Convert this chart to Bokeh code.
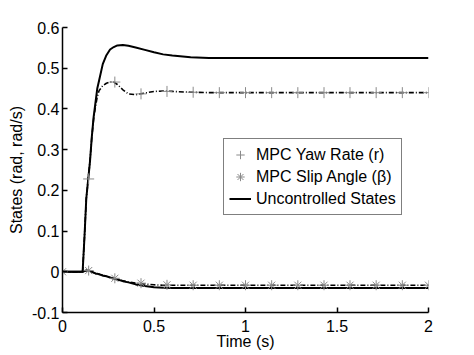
from bokeh.plotting import figure
from bokeh.models import Range1d, FixedTicker, Legend, LegendItem, ColumnDataSource
from bokeh.embed import file_html
from bokeh.resources import INLINE

# ---- data ----
t = [0, 0.05, 0.11, 0.12, 0.13, 0.14, 0.15, 0.16, 0.17, 0.18, 0.19, 0.20, 0.22, 0.24,
     0.26, 0.28, 0.30, 0.33, 0.36, 0.40, 0.45, 0.50, 0.55, 0.60, 0.70, 0.80, 0.90, 1.0, 1.5, 2.0]
unc_yaw = [0, 0, 0, 0.085, 0.18, 0.225, 0.27, 0.33, 0.38, 0.415, 0.45, 0.47, 0.51, 0.532,
           0.546, 0.552, 0.556, 0.557, 0.555, 0.551, 0.545, 0.539, 0.534, 0.531, 0.527,
           0.525, 0.525, 0.525, 0.525, 0.525]
mpc_yaw = [0, 0, 0, 0.085, 0.18, 0.225, 0.27, 0.33, 0.375, 0.405, 0.43, 0.445, 0.457, 0.463,
           0.466, 0.466, 0.46, 0.447, 0.437, 0.435, 0.439, 0.443, 0.444, 0.443, 0.441,
           0.44, 0.44, 0.44, 0.44, 0.44]
unc_slip = [0, 0, 0, 0.002, 0.003, 0.003, 0.002, 0.0, -0.002, -0.004, -0.005, -0.006, -0.009,
            -0.011, -0.014, -0.017, -0.019, -0.023, -0.026, -0.031, -0.035, -0.038, -0.039,
            -0.040, -0.040, -0.040, -0.040, -0.040, -0.040, -0.040]
mpc_slip = [0, 0, 0, 0.002, 0.003, 0.003, 0.002, 0.0, -0.002, -0.004, -0.005, -0.006, -0.009,
            -0.011, -0.014, -0.016, -0.019, -0.022, -0.025, -0.028, -0.030, -0.032, -0.033,
            -0.033, -0.033, -0.033, -0.033, -0.033, -0.033, -0.033]

t_mark = [0, 0.143, 0.286, 0.429, 0.571, 0.714, 0.857, 1.0, 1.143, 1.286, 1.429, 1.571,
          1.714, 1.857, 2.0]
yaw_mark = [0, 0.228, 0.466, 0.437, 0.443, 0.441, 0.44, 0.44, 0.44, 0.44, 0.44, 0.44,
            0.44, 0.44, 0.44]
slip_mark = [0, 0.003, -0.016, -0.028, -0.032, -0.033, -0.033, -0.033, -0.033, -0.033,
             -0.033, -0.033, -0.033, -0.033, -0.033]

x_ticks = [0, 0.5, 1, 1.5, 2]
x_tick_labels = ["0", "0.5", "1", "1.5", "2"]
y_ticks = [-0.1, 0, 0.1, 0.2, 0.3, 0.4, 0.5, 0.6]
y_tick_labels = ["-0.1", "0", "0.1", "0.2", "0.3", "0.4", "0.5", "0.6"]

legend_labels = ["MPC Yaw Rate (r)", "MPC Slip Angle (\u03b2)", "Uncontrolled States"]

FONT = "Liberation Sans"

p = figure(width=474, height=355, output_backend="svg", toolbar_location=None,
           x_range=Range1d(0, 2), y_range=Range1d(-0.1, 0.6),
           min_border_left=62, min_border_right=46, min_border_top=27, min_border_bottom=43)
p.outline_line_color = None
p.xgrid.visible = False
p.ygrid.visible = False
p.background_fill_color = "white"
p.border_fill_color = "white"

lines = ColumnDataSource(dict(t=t, unc_yaw=unc_yaw, mpc_yaw=mpc_yaw,
                              unc_slip=unc_slip, mpc_slip=mpc_slip))
marks = ColumnDataSource(dict(t=t_mark, yaw=yaw_mark, slip=slip_mark))

r_unc1 = p.line("t", "unc_yaw", source=lines, line_color="black", line_width=2)
r_unc2 = p.line("t", "unc_slip", source=lines, line_color="black", line_width=2)
p.line("t", "mpc_yaw", source=lines, line_color="black", line_width=1.6, line_dash="5 2 1 2")
p.line("t", "mpc_slip", source=lines, line_color="black", line_width=1.6, line_dash="5 2 1 2")
r_yaw = p.scatter("t", "yaw", source=marks, marker="cross", size=11,
                  line_color="#8a8a8a", line_width=1)
r_slip = p.scatter("t", "slip", source=marks, marker="asterisk", size=10,
                   line_color="#8a8a8a", line_width=1)

for ax, ticks, labels in ((p.xaxis[0], x_ticks, x_tick_labels), (p.yaxis[0], y_ticks, y_tick_labels)):
    ax.ticker = FixedTicker(ticks=ticks)
    ax.major_label_overrides = {tk: lb for tk, lb in zip(ticks, labels)}
    ax.minor_tick_line_color = None
    ax.major_tick_in = 5
    ax.major_tick_out = 0
    ax.axis_line_color = "black"
    ax.axis_line_width = 1.5
    ax.major_tick_line_color = "black"
    ax.major_tick_line_width = 1.5
    ax.major_label_text_font = FONT
    ax.major_label_text_font_size = "16px"
    ax.major_label_text_color = "black"
    ax.axis_label_text_font = FONT
    ax.axis_label_text_font_size = "16px"
    ax.axis_label_text_font_style = "normal"
    ax.axis_label_text_color = "black"

p.xaxis[0].axis_label = "Time (s)"
p.xaxis[0].major_label_standoff = 7
p.xaxis[0].axis_label_standoff = -2
p.yaxis[0].axis_label = "States (rad, rad/s)"
p.yaxis[0].major_label_standoff = 3
p.yaxis[0].axis_label_standoff = 4

legend = Legend(items=[LegendItem(label=legend_labels[0], renderers=[r_yaw]),
                       LegendItem(label=legend_labels[1], renderers=[r_slip]),
                       LegendItem(label=legend_labels[2], renderers=[r_unc1])],
                location=(161, 97), border_line_color="black", border_line_width=1,
                background_fill_alpha=1, label_text_font=FONT, label_text_font_size="16px",
                label_text_color="black", glyph_width=22, glyph_height=21, label_height=21,
                label_standoff=5, spacing=1, padding=5, margin=0)
p.add_layout(legend)

open("out.html", "w").write(file_html(p, INLINE))
